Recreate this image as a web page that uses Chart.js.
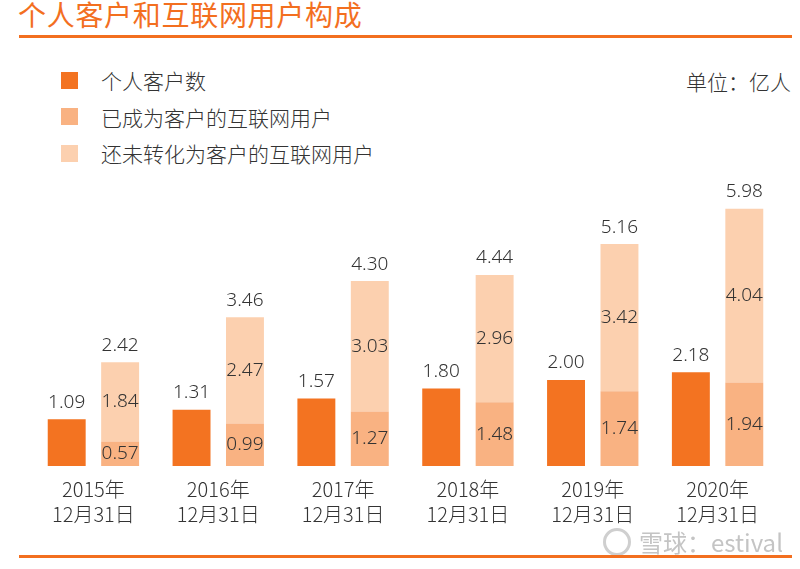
<!DOCTYPE html>
<html>
<head>
<meta charset="utf-8">
<script src="https://cdn.jsdelivr.net/npm/chart.js@4"></script>
<style>
    body { margin: 0; background: #fff; font-family: "Noto Sans CJK SC", "Noto Sans", sans-serif; color: #333; }
    .wrap { position: relative; width: 800px; height: 569px; overflow: hidden; }
    .title { position: absolute; left: 18px; top: -6px; font-size: 28px; color: #f36f1f; letter-spacing: 0.7px; font-weight: 400; }
    .rule { position: absolute; left: 19px; width: 773px; height: 3px; background: #f36f1f; }
    .legend { position: absolute; left: 61px; top: 62px; }
    .legend-item { display: flex; align-items: center; height: 36.5px; font-size: 21px; color: #333; font-weight: 300; }
    .legend-box { width: 17px; height: 17px; margin-right: 23px; }
    .unit { position: absolute; right: 9px; top: 66px; font-size: 21px; color: #333; font-weight: 300; }
    .watermark { position: absolute; left: 603px; top: 524px; font-size: 24px; color: #c4c4c4; display: flex; align-items: center; }
    .wm-logo { width: 22px; height: 22px; border: 3px solid #cfcfcf; border-radius: 50%; margin-right: 8px; }
    canvas { position: absolute; left: 0; top: 0; }
</style>
</head>
<body>
<div class="wrap">
    <div class="title">个人客户和互联网用户构成</div>
    <div class="rule" style="top: 35px;"></div>
    <div class="legend" id="legend"></div>
    <div class="unit">单位：亿人</div>
    <canvas id="chart" width="800" height="569"></canvas>
    <div class="watermark"><span class="wm-logo"></span>雪球：estival</div>
    <div class="rule" style="top: 555px;"></div>
</div>
<script>
// ---- data ----
const categories = [['2015年', '12月31日'], ['2016年', '12月31日'], ['2017年', '12月31日'],
                    ['2018年', '12月31日'], ['2019年', '12月31日'], ['2020年', '12月31日']];
const seriesNames = ['个人客户数', '已成为客户的互联网用户', '还未转化为客户的互联网用户'];
const personalCustomers = [1.09, 1.31, 1.57, 1.80, 2.00, 2.18];
const convertedUsers = [0.57, 0.99, 1.27, 1.48, 1.74, 1.94];
const unconvertedUsers = [1.84, 2.47, 3.03, 2.96, 3.42, 4.04];
const internetTotals = [2.42, 3.46, 4.30, 4.44, 5.16, 5.98];

const colors = ['#f37321', '#f9b282', '#fcd0af'];

// legend
document.getElementById('legend').innerHTML = seriesNames.map((name, i) => `
    <div class="legend-item">
        <span class="legend-box" style="background: ${colors[i]};"></span>${name}
    </div>
`).join('');

// draws value labels: above the bar for dark/total, centred inside for stacked parts
const valueLabels = {
    id: 'valueLabels',
    afterDatasetsDraw(chart) {
        const ctx = chart.ctx;
        ctx.save();
        ctx.font = '300 19px "Noto Sans", "Noto Sans CJK SC", sans-serif';
        ctx.fillStyle = '#333';
        ctx.textAlign = 'center';
        ctx.textBaseline = 'middle';

        chart.data.datasets.forEach((ds, di) => {
            const meta = chart.getDatasetMeta(di);
            meta.data.forEach((bar, i) => {
                const v = ds.data[i].toFixed(2);
                if (di === 0) {
                    ctx.fillText(v, bar.x, bar.y - 17);
                } else {
                    ctx.fillText(v, bar.x, (bar.y + bar.base) / 2);
                }
                if (di === 2) {
                    ctx.fillText(internetTotals[i].toFixed(2), bar.x, bar.y - 17);
                }
            });
        });
        ctx.restore();
    }
};

new Chart(document.getElementById('chart'), {
    type: 'bar',
    data: {
        labels: categories,
        datasets: [
            { label: seriesNames[0], data: personalCustomers, backgroundColor: colors[0], stack: 'a' },
            { label: seriesNames[1], data: convertedUsers, backgroundColor: colors[1], stack: 'b' },
            { label: seriesNames[2], data: unconvertedUsers, backgroundColor: colors[2], stack: 'b' }
        ]
    },
    options: {
        responsive: false,
        animation: false,
        categoryPercentage: 0.856,
        barPercentage: 0.71,
        layout: { padding: { left: 31, right: 20, top: 165, bottom: 31 } },
        plugins: {
            legend: { display: false },
            tooltip: { enabled: false }
        },
        scales: {
            x: {
                stacked: true,
                grid: { display: false, drawTicks: false },
                border: { display: false },
                ticks: {
                    padding: 11,
                    color: '#333',
                    font: { size: 20, weight: '300', family: '"Noto Sans CJK SC", sans-serif', lineHeight: 1.25 }
                }
            },
            y: {
                stacked: true,
                display: false,
                min: 0,
                max: 7
            }
        }
    },
    plugins: [valueLabels]
});
</script>
</body>
</html>
